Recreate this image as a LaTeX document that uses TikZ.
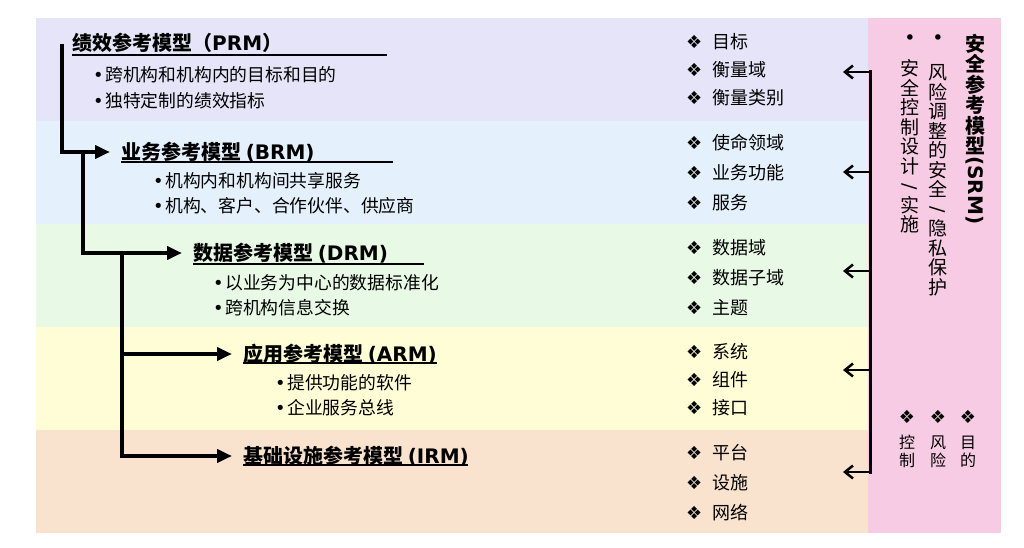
\documentclass[tikz,border=0pt]{standalone}
\usepackage{fontspec}
\setmainfont{Noto Sans CJK SC}
\newfontfamily\latfont{DejaVu Sans}
\usetikzlibrary{arrows.meta,positioning}
\definecolor{bandprm}{HTML}{E6E4F8}
\definecolor{bandbrm}{HTML}{E4F1FC}
\definecolor{banddrm}{HTML}{E8FAE6}
\definecolor{bandarm}{HTML}{FFFDD6}
\definecolor{bandirm}{HTML}{FAE3CE}
\definecolor{bandsrm}{HTML}{F7CBE3}
\newcommand\dotmark{\makebox[12pt][l]{\latfont •}}
\newcommand\itemmark{\makebox[26pt][l]{\latfont\fontsize{18}{18}\selectfont ❖}}
\newcommand\vturn[1]{\rotatebox[origin=c]{-90}{\latfont #1}}
\tikzset{
    title/.style={
        anchor=west,
        inner sep=0pt,
        font=\bfseries\fontsize{20}{22}\selectfont
    },
    point/.style={
        anchor=west,
        inner sep=0pt,
        font=\fontsize{17.8}{19}\selectfont
    },
    item/.style={
        anchor=west,
        inner sep=0pt,
        font=\fontsize{18}{20}\selectfont
    },
    uline/.style={draw, line width=1.3pt},
    tree/.style={draw, line width=4pt, -{Triangle[length=15pt,width=13pt]}, shorten >=11pt},
    feed/.style={draw, line width=2.5pt, -{Straight Barb[length=8pt,width=13pt]}},
    feed line/.style={draw, line width=3pt}
}
\begin{document}
\begin{tikzpicture}[x=1pt,y=-1pt,
            vtitle/.style={
                anchor=north,
                inner sep=0pt,
                align=center,
                font=\bfseries\fontsize{20}{20.5}\selectfont
            },
            vtext/.style={
                anchor=north,
                inner sep=0pt,
                align=center,
                font=\fontsize{19}{19.5}\selectfont
            },
            vnote/.style={
                anchor=north,
                inner sep=0pt,
                align=center,
                font=\fontsize{16}{18}\selectfont
            }]
    \useasboundingbox[fill=white] (0,0) rectangle (1024,548);
    % colour bands
    \fill[bandprm] (36,18) rectangle (868,121);
    \fill[bandbrm] (36,121) rectangle (868,224);
    \fill[banddrm] (36,224) rectangle (868,327);
    \fill[bandarm] (36,327) rectangle (868,430);
    \fill[bandirm] (36,430) rectangle (868,533);
    \fill[bandsrm] (868,18) rectangle (1001,533);

    % reference models
    \node[title] (prm) at (72,43) {绩效参考模型（{\latfont PRM}）};
    \node[point] (prm1) at (93,75) {\dotmark 跨机构和机构内的目标和目的};
    \node[point] (prm2) at (93,101) {\dotmark 独特定制的绩效指标};

    \node[title] (brm) at (121,152) {业务参考模型 {\latfont (BRM)}};
    \node[point] (brm1) at (153,181) {\dotmark 机构内和机构间共享服务};
    \node[point] (brm2) at (153,206) {\dotmark 机构、客户、合作伙伴、供应商};

    \node[title] (drm) at (193,253) {数据参考模型 {\latfont (DRM)}};
    \node[point] (drm1) at (213,283) {\dotmark 以业务为中心的数据标准化};
    \node[point] (drm2) at (213,308) {\dotmark 跨机构信息交换};

    \node[title] (arm) at (243,354) {应用参考模型 {\latfont (ARM)}};
    \node[point] (arm1) at (275,383) {\dotmark 提供功能的软件};
    \node[point] (arm2) at (275,408) {\dotmark 企业服务总线};

    \node[title] (irm) at (243,456) {基础设施参考模型 {\latfont (IRM)}};

    \draw[uline] ([yshift=-12pt]prm.west) -- +(315,0);
    \draw[uline] ([yshift=-10pt]brm.west) -- +(272,0);
    \draw[uline] ([yshift=-11pt]drm.west) -- +(231,0);
    \draw[uline] ([yshift=-9pt]arm.west) -- +(194,0);
    \draw[uline] ([yshift=-9pt]irm.west) -- +(225,0);

    \coordinate (t1) at (62,44);
    \coordinate (j1) at (83,152);
    \coordinate (j2) at (122,253);
    \draw[tree] (t1) |- (brm.west);
    \draw[tree] (j1) |- (drm.west);
    \draw[tree] (j2) |- (arm.west);
    \draw[tree] (j2) |- (irm.west);

    % domains
    \node[item] (g1a) at (686,42) {\itemmark 目标};
    \node[item] (g1b) at (686,70) {\itemmark 衡量域};
    \node[item] (g1c) at (686,98) {\itemmark 衡量类别};
    \node[item] (g2a) at (686,143) {\itemmark 使命领域};
    \node[item] (g2b) at (686,173) {\itemmark 业务功能};
    \node[item] (g2c) at (686,203) {\itemmark 服务};
    \node[item] (g3a) at (686,248) {\itemmark 数据域};
    \node[item] (g3b) at (686,278) {\itemmark 数据子域};
    \node[item] (g3c) at (686,308) {\itemmark 主题};
    \node[item] (g4a) at (686,352) {\itemmark 系统};
    \node[item] (g4b) at (686,380) {\itemmark 组件};
    \node[item] (g4c) at (686,408) {\itemmark 接口};
    \node[item] (g5a) at (686,453) {\itemmark 平台};
    \node[item] (g5b) at (686,483) {\itemmark 设施};
    \node[item] (g5c) at (686,513) {\itemmark 网络};

    % security model
    \node[vtitle] (srm) at (975,34) {安\\全\\参\\考\\模\\型\\\vturn{(SRM)}};
    \node[vtext] (risk) at (938,34) {{\latfont •}\\[16pt]风\\险\\调\\整\\的\\安\\全\\\vturn{/}\\隐\\私\\保\\护};
    \node[vtext] (ctrl) at (910,34) {{\latfont •}\\[12pt]安\\全\\控\\制\\设\\计\\\vturn{/}\\实\\施};
    \node[vnote] (goal) at (968,410) {{\latfont\fontsize{18}{18}\selectfont ❖}\\[7pt]目\\的};
    \node[vnote] (hazard) at (938,410) {{\latfont\fontsize{18}{18}\selectfont ❖}\\[7pt]风\\险};
    \node[vnote] (check) at (907,410) {{\latfont\fontsize{18}{18}\selectfont ❖}\\[7pt]控\\制};

    \coordinate (f1) at (870,72);
    \coordinate (f2) at (870,172);
    \coordinate (f3) at (870,271);
    \coordinate (f4) at (870,370);
    \coordinate (f5) at (870,472);
    \coordinate (h1) at (843,72);
    \coordinate (h2) at (843,172);
    \coordinate (h3) at (843,271);
    \coordinate (h4) at (843,370);
    \coordinate (h5) at (843,472);
    \draw[feed line] ([yshift=1.5pt]f1) -- ([yshift=-1.5pt]f5);
    \draw[feed] (f1) -- (h1);
    \draw[feed] (f2) -- (h2);
    \draw[feed] (f3) -- (h3);
    \draw[feed] (f4) -- (h4);
    \draw[feed] (f5) -- (h5);
\end{tikzpicture}
\end{document}
